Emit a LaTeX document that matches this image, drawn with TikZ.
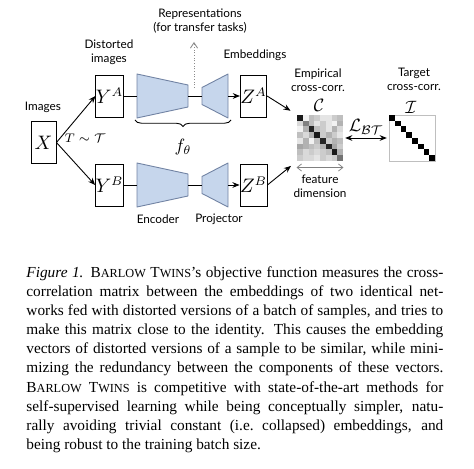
\documentclass[tikz,border=0pt]{standalone}
\usepackage{amsmath,amssymb}
\usepackage{fontspec}
\setmainfont{Liberation Serif}
\newfontfamily\labfont{Lato}
\usepackage{xcolor}
\usepackage{tikz}
\usetikzlibrary{positioning,arrows.meta,decorations.pathreplacing}
\definecolor{netfill}{HTML}{C6D6EC}
\definecolor{netline}{HTML}{7183A3}
\def\pxu{0.5613pt}
\newcommand{\scsz}[1]{{\fontsize{6.9}{11}\selectfont #1}}
\newcommand{\bltw}{B\scsz{ARLOW} T\scsz{WINS}}

\begin{document}
\begin{tikzpicture}[x=\pxu,y=-\pxu,line width=0.5pt,
  varbox/.style={draw,minimum width=25*\pxu,minimum height=42*\pxu,inner sep=0pt,font=\fontsize{10.5}{12}\selectfont},
  lab/.style={font=\labfont\fontsize{6.6}{8}\selectfont,align=center,inner sep=0pt},
  net/.style={draw=netline,fill=netfill,line join=round},
  link/.style={-{Stealth[length=4pt,width=3.2pt]}}]
  \useasboundingbox (0,0) rectangle (474,469);
  \def\ms{5.75}
  % inputs and the two branches
  \node[lab] (imglab) at (43,107) {Images};
  \node[varbox] (x) at (43.5,142.5) {$X$};
  \node[lab] (distlab) at (109,52) {Distorted\\images};
  \foreach \br/\yc in {A/96,B/185} {
    \node[varbox] (y\br) at (109.5,\yc) {$Y^{\br}$};
    \node[varbox] (z\br) at (253.5,\yc) {$Z^{\br}$};
    \draw[net] (137,\yc-22) -- (188,\yc-11) -- (188,\yc+11) -- (137,\yc+22) -- cycle;
    \draw[net] (202,\yc-8.5) -- (228,\yc-22) -- (228,\yc+22) -- (202,\yc+8.5) -- cycle;
    \coordinate (enc\br w) at (137,\yc); \coordinate (enc\br e) at (188,\yc);
    \coordinate (proj\br w) at (202,\yc); \coordinate (proj\br e) at (228,\yc);
    \draw (y\br.east) -- (enc\br w);
    \draw (enc\br e) -- (proj\br w);
    \draw[link] (proj\br e) -- (z\br.west);
    \draw[link] (x.east) -- (y\br.west);
  }
  \node[font=\fontsize{7.5}{9}\selectfont] (tlab) at (85,138) {$T\sim\mathcal{T}$};
  % representations
  \node[lab] (replab) at (200,21) {Representations\\(for transfer tasks)};
  \coordinate (repst) at (194,88); \coordinate (repend) at (194,42);
  \draw[densely dotted,black!45,-{Straight Barb[length=3pt,width=4pt]}] (repst) -- (repend);
  \node[lab] (emblab) at (255,55) {Embeddings};
  \coordinate (brL) at (135,120); \coordinate (brR) at (231,120);
  \draw[decorate,decoration={brace,amplitude=6.5*\pxu}] (brR) -- (brL);
  \node[font=\fontsize{10}{12}\selectfont] (flab) at (183,147) {$f_\theta$};
  \node[lab] (enclab) at (158,219) {Encoder};
  \node[lab] (projlab) at (219,219) {Projector};
  % empirical cross-correlation
  \foreach \row [count=\i from 0] in {{90,5,25,20,10,10,20,25},{15,50,25,10,20,10,5,30},
      {5,30,85,25,20,10,30,15},{25,15,30,90,20,30,20,10},{10,30,5,25,85,20,30,25},
      {35,30,25,20,30,85,35,20},{25,15,20,15,20,25,90,30},{20,15,15,10,20,15,20,55}} {
    \foreach \v [count=\j from 0] in \row {
      \fill[black!\v] (297+\j*\ms,115+\i*\ms) rectangle ++(\ms,\ms);
    }
  }
  \node[minimum size=46*\pxu,inner sep=0pt] (cmat) at (320,138) {};
  \node[lab] (emplab) at (318,80) {Empirical\\cross-corr.};
  \node[font=\fontsize{10}{12}\selectfont] (cname) at (319,105) {$\mathcal{C}$};
  \draw[link,shorten >=4pt] (zA.east) -- (cmat.north west);
  \draw[link,shorten >=4pt] (zB.east) -- (cmat.south west);
  \draw[black!50,line width=0.4pt,{Straight Barb[length=2.5pt,width=4pt]}-{Straight Barb[length=2.5pt,width=4pt]}]
    ([yshift=-3.4pt]cmat.south west) -- ([yshift=-3.4pt]cmat.south east);
  \node[lab] (featlab) at (320,186) {feature\\dimension};
  % target
  \node[draw=black!25,minimum size=46*\pxu,inner sep=0pt] (imat) at (412,138) {};
  \foreach \k in {0,...,7}
    \fill (389+\k*\ms,115+\k*\ms) rectangle ++(\ms,\ms);
  \node[lab] (tgtlab) at (414,79) {Target\\cross-corr.};
  \node[font=\fontsize{10}{12}\selectfont] (iname) at (411,107) {$\mathcal{I}$};
  \draw[{Stealth[length=4pt,width=3.2pt]}-{Stealth[length=4pt,width=3.2pt]}] ([xshift=1pt]cmat.east) -- ([xshift=-1pt]imat.west);
  \node[font=\fontsize{10}{12}\selectfont] (lbt) at (366,127) {$\mathcal{L}_{\mathcal{BT}}$};
  % caption
  \node[anchor=north west,inner sep=0pt,text width=234pt,align=justify,font=\fontsize{8.6}{10.75}\selectfont] (cap) at (26,266)
  {\textit{Figure 1.} \bltw's objective function measures the cross-\linebreak
  correlation matrix between the embeddings of two identical net-\linebreak
  works fed with distorted versions of a batch of samples, and tries to\linebreak
  make this matrix close to the identity. This causes the embedding\linebreak
  vectors of distorted versions of a sample to be similar, while mini-\linebreak
  mizing the redundancy between the components of these vectors.\linebreak
  \bltw\ is competitive with state-of-the-art methods for\linebreak
  self-supervised learning while being conceptually simpler, natu-\linebreak
  rally avoiding trivial constant (i.e.\ collapsed) embeddings, and\linebreak
  being robust to the training batch size.};
\end{tikzpicture}
\end{document}
